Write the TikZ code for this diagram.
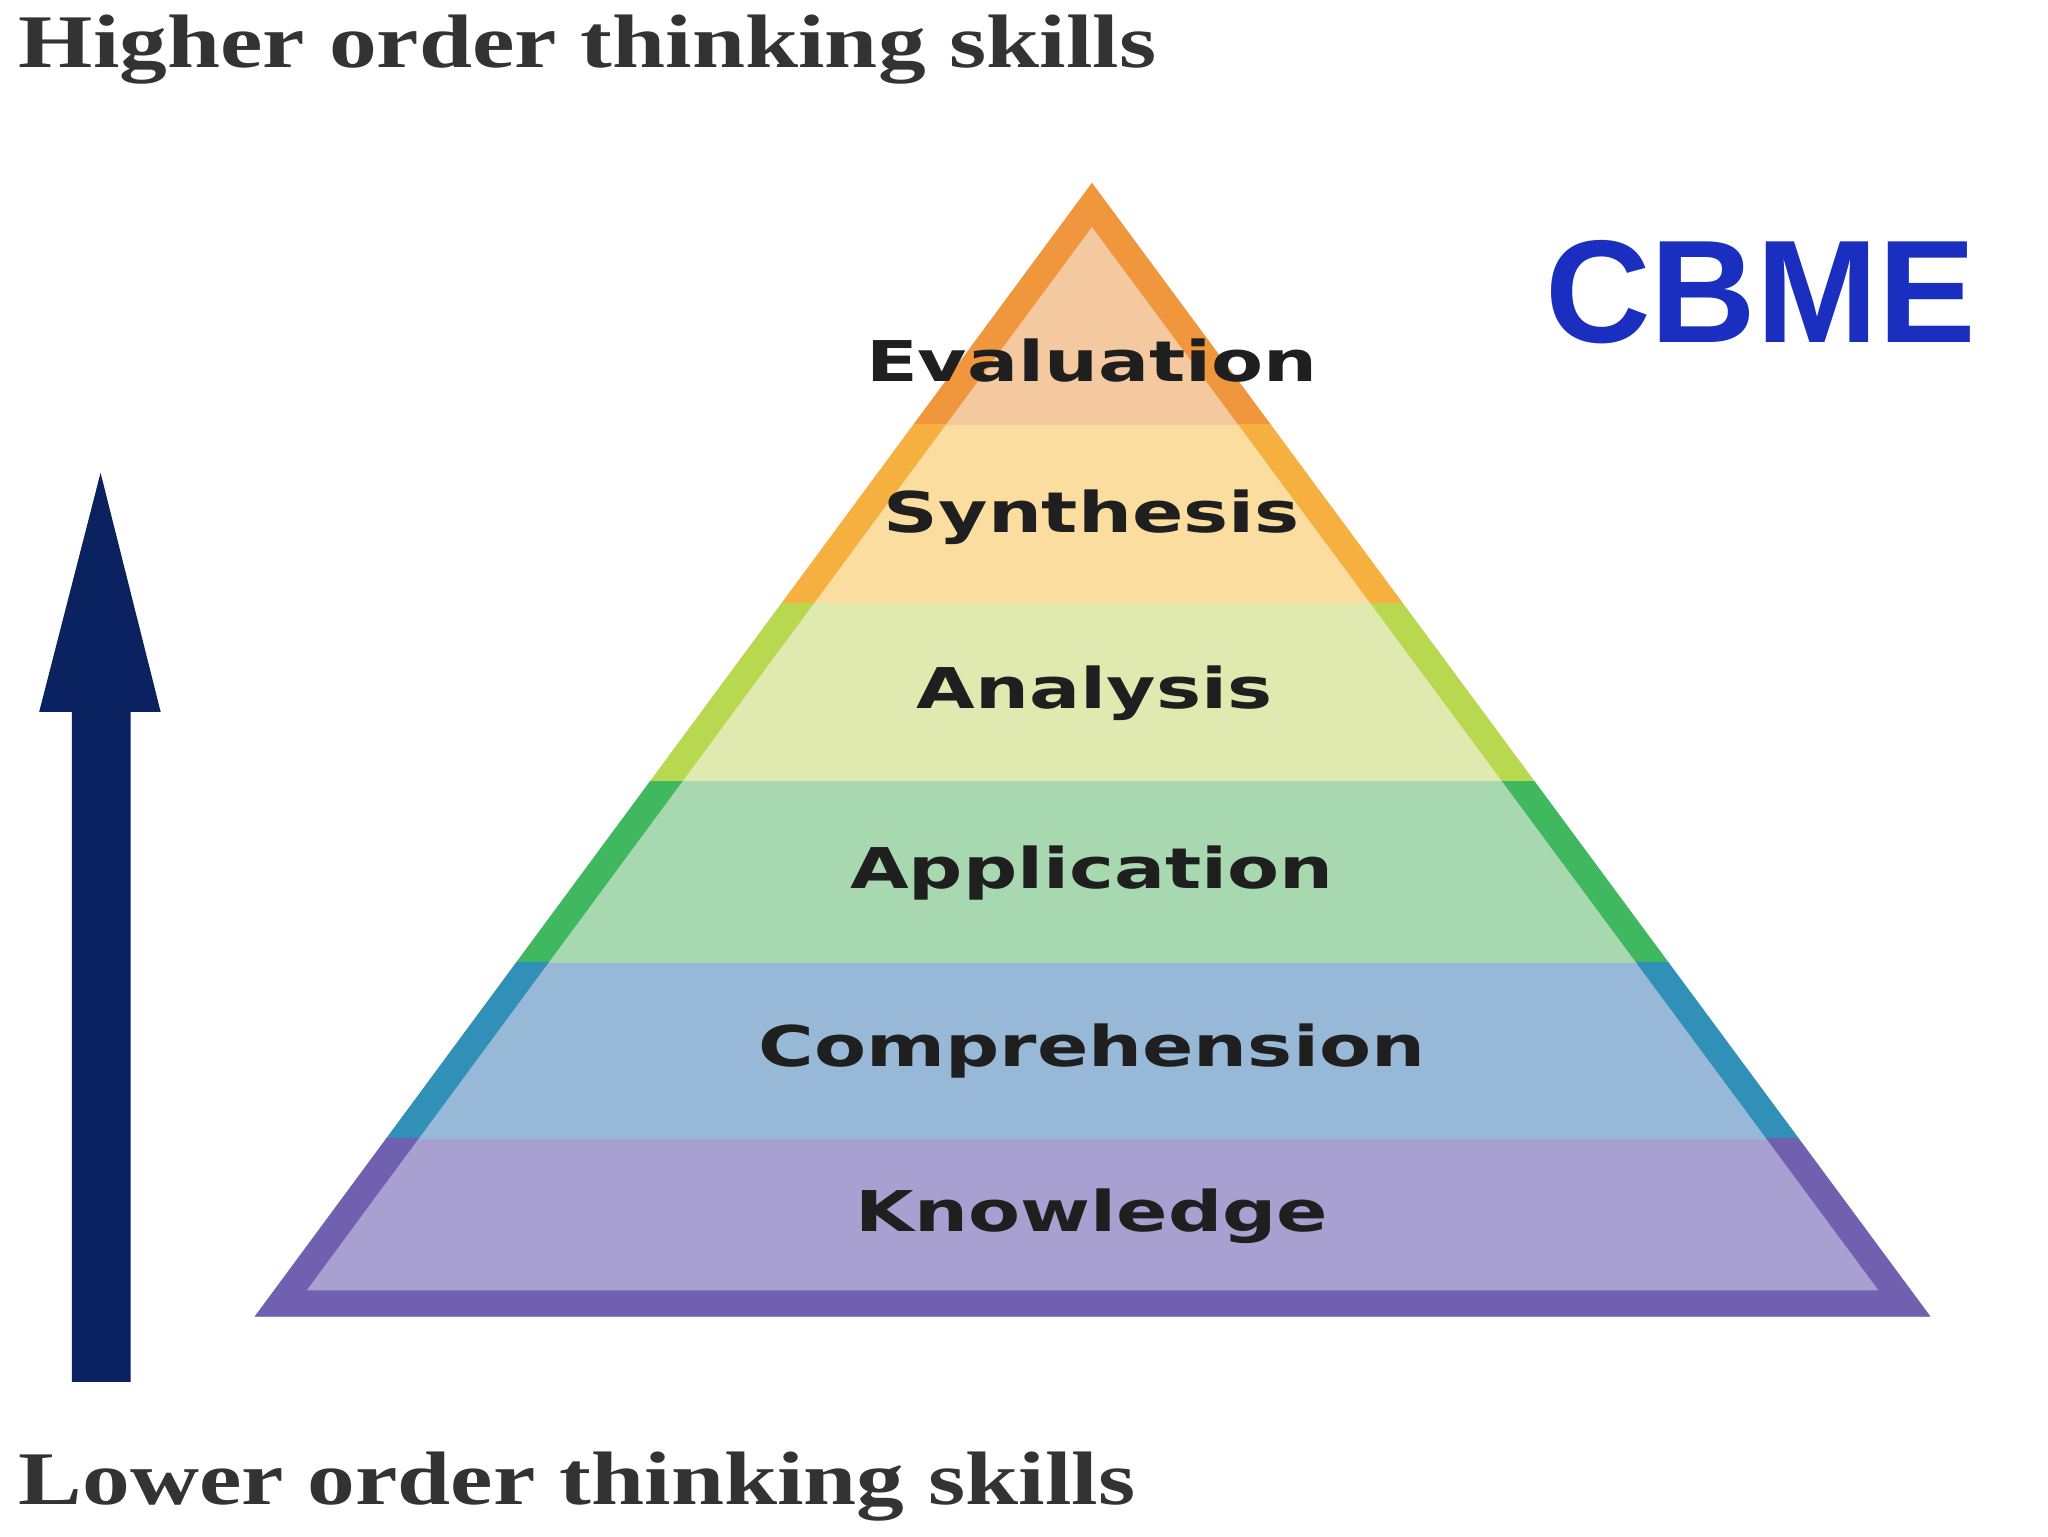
\documentclass[tikz,border=0pt]{standalone}
\usepackage{fontspec}
\setmainfont{Liberation Serif}
\newfontfamily\lab{DejaVu Sans}
\newfontfamily\cb{Liberation Sans}
\definecolor{navy}{HTML}{0A2260}
\definecolor{cbme}{HTML}{1A2FBF}
\definecolor{f1}{HTML}{F5C9A0}\definecolor{b1}{HTML}{F0963C}
\definecolor{f2}{HTML}{FBDDA0}\definecolor{b2}{HTML}{F5B040}
\definecolor{f3}{HTML}{E0EAB0}\definecolor{b3}{HTML}{B8D850}
\definecolor{f4}{HTML}{A8D8B0}\definecolor{b4}{HTML}{40B860}
\definecolor{f5}{HTML}{98B8D8}\definecolor{b5}{HTML}{3090B8}
\definecolor{f6}{HTML}{A8A0D0}\definecolor{b6}{HTML}{7060B0}
\begin{document}
\begin{tikzpicture}[x=1pt,y=-1pt,
  lbl/.style={font=\lab\bfseries\fontsize{43}{43}\selectfont, text=black!88, xscale=1.35, transform shape},
  ttl/.style={font=\bfseries\fontsize{58}{58}\selectfont, text=black!80, anchor=west, xscale=1.26, transform shape}]
\useasboundingbox (0,0) rectangle (1568,1176);
\fill[white] (0,0) rectangle (1568,1176);
\coordinate (A) at (836,140);
\coordinate (L) at (195,1008);
\coordinate (R) at (1478,1008);
\def\band#1#2#3#4{%
  \begin{scope}
    \clip (A) -- (L) -- (R) -- cycle;
    \clip (0,#1) rectangle (1568,#2);
    \fill[#3] (0,#1) rectangle (1568,#2);
    \draw[#4, line width=40pt, line join=miter] (A) -- (L) -- (R) -- cycle;
  \end{scope}}
\band{130}{325}{f1}{b1}
\band{325}{462}{f2}{b2}
\band{462}{598}{f3}{b3}
\band{598}{737}{f4}{b4}
\band{737}{872}{f5}{b5}
\band{872}{1010}{f6}{b6}
\node[lbl] (ev) at (836,276) {Evaluation};
\node[lbl] (sy) at (836,396) {Synthesis};
\node[lbl] (an) at (838,531) {Analysis};
\node[lbl] (ap) at (836,668) {Application};
\node[lbl] (co) at (836,805) {Comprehension};
\node[lbl] (kn) at (836,931) {Knowledge};
\node[font=\cb\bfseries\fontsize{112}{112}\selectfont, text=cbme] (cbme) at (1348,224) {CBME};
\node[ttl] (hi) at (10,38) {Higher order thinking skills};
\node[ttl] (lo) at (10,1138) {Lower order thinking skills};
\fill[navy] (55,1058) -- (55,545) -- (30,545) -- (77,362) -- (123,545) -- (100,545) -- (100,1058) -- cycle;
\end{tikzpicture}
\end{document}
